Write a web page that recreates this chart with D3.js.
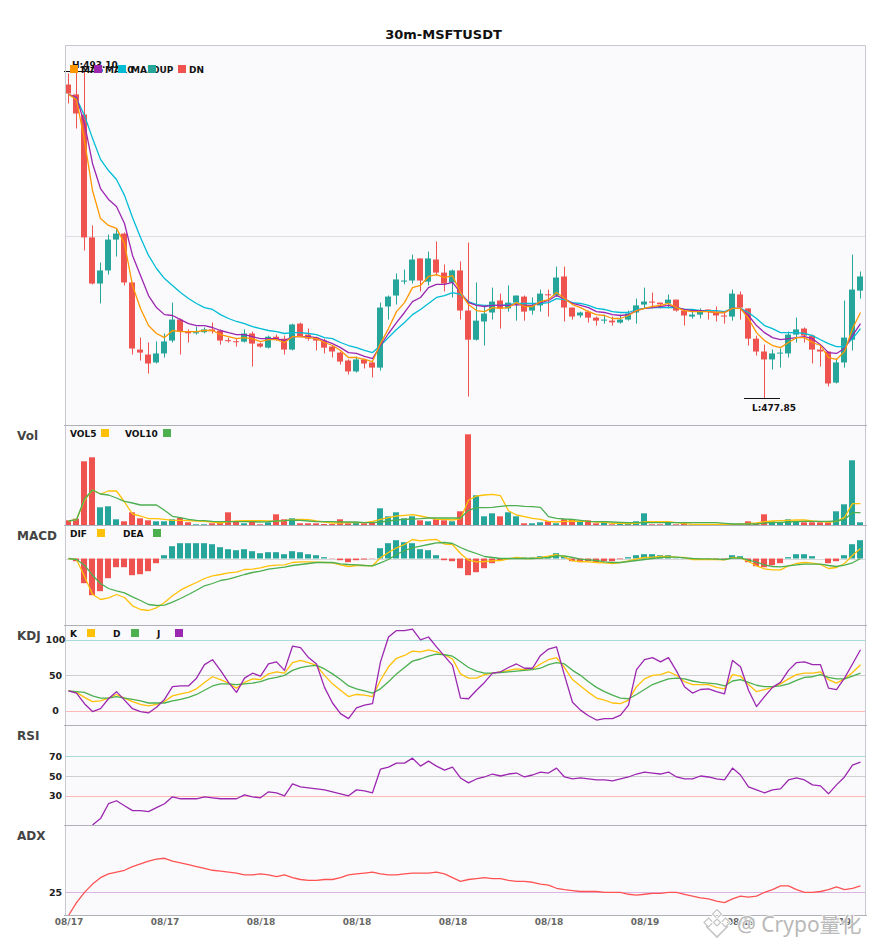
<!DOCTYPE html>
<html>
<head>
<meta charset="utf-8">
<title>30m-MSFTUSDT</title>
<script src="https://cdn.jsdelivr.net/npm/d3@7/dist/d3.min.js"></script>
<style>
  html, body { margin: 0; padding: 0; background: #fff; }
  svg { display: block; font-family: "DejaVu Sans", sans-serif; }
  .legend { font-size: 9px; font-weight: bold; fill: #111; }
  .pane-label { font-size: 12px; font-weight: bold; fill: #444; }
  .axis text { font-size: 9.5px; font-weight: bold; fill: #222; font-family: "DejaVu Sans", sans-serif; }
  .axis path, .axis line { display: none; }
  .axis.time text { font-size: 9px; fill: #666; }
</style>
</head>
<body>
<svg id="chart" width="885" height="950"></svg>
<script>
const WIDTH = 885;
const HEIGHT = 950;

const TITLE = "30m-MSFTUSDT";
const dateLabels = ["08/17", "08/17", "08/18", "08/18", "08/18", "08/18", "08/19", "08/19", "08/19"];

const open = [
  492.49,492.03,491.09,485.36,483.21,483.82,485.26,485.54,483.26,480.13,
  479.90,479.53,479.95,480.55,481.53,480.97,480.89,480.94,481.07,481.02,
  480.57,480.52,480.50,480.88,480.41,480.22,480.73,480.64,480.13,481.34,
  480.83,480.69,480.55,480.27,479.99,479.62,479.11,479.67,479.53,479.29,
  482.14,482.65,483.30,483.35,484.38,483.30,484.33,483.72,483.26,483.82,
  481.95,480.59,481.44,481.86,482.42,482.05,482.32,482.60,481.95,482.19,
  482.71,482.65,483.54,482.09,481.72,481.90,481.62,481.48,481.48,481.39,
  481.53,481.86,482.23,482.37,482.32,482.28,482.46,481.95,481.67,481.76,
  482.00,481.86,481.72,481.67,482.70,482.05,480.64,480.04,479.67,479.95,
  479.95,480.83,481.11,480.78,480.13,480.04,478.59,479.53,480.59,482.88
];
const close = [
  492.07,491.14,485.36,483.21,483.82,485.26,485.54,483.26,480.18,479.99,
  479.48,479.95,480.51,481.53,480.97,480.89,480.94,481.07,480.99,480.55,
  480.52,480.48,480.88,480.41,480.27,480.73,480.59,480.13,481.30,480.73,
  480.64,480.55,480.22,480.04,479.57,479.11,479.67,479.48,479.29,482.09,
  482.60,483.40,483.35,484.33,483.35,484.38,483.72,483.21,483.82,481.95,
  480.59,481.48,481.81,482.37,482.05,482.32,482.65,481.90,482.19,482.74,
  482.66,483.49,482.09,481.67,481.86,481.62,481.48,481.53,481.40,481.53,
  481.81,482.19,482.37,482.32,482.24,482.46,481.95,481.72,481.76,481.90,
  481.95,481.72,481.67,482.74,482.09,480.64,480.04,479.67,479.95,479.99,
  480.83,481.07,480.78,480.13,480.04,478.55,479.53,480.69,482.93,483.54
];
const high = [
  493.01,493.05,493.10,485.92,484.19,485.50,485.78,485.59,483.26,480.69,
  480.46,480.51,480.88,482.32,481.58,481.07,481.20,481.16,481.39,481.07,
  480.69,480.66,481.07,480.97,480.46,480.78,480.83,480.78,481.34,481.39,
  481.11,480.73,480.64,480.32,480.04,479.67,479.81,479.71,479.57,482.32,
  482.65,483.68,483.86,484.56,484.38,484.70,485.17,484.10,483.86,484.24,
  485.12,483.26,482.14,483.02,482.74,483.12,482.65,482.65,482.56,482.93,
  482.93,484.00,484.00,482.09,481.90,481.95,481.67,481.76,481.67,481.76,
  481.95,482.51,483.02,482.79,482.32,482.70,482.46,482.00,481.95,482.05,
  482.00,482.14,481.90,482.93,482.84,482.05,480.78,480.36,480.13,480.18,
  480.97,481.62,481.16,480.83,480.32,480.04,479.71,482.42,484.56,483.77
];
const low = [
  491.61,490.44,484.75,483.17,482.28,483.63,484.47,483.12,479.90,479.62,
  479.01,479.48,479.76,480.46,479.90,480.46,480.83,480.89,480.88,480.36,
  480.46,480.27,480.46,479.34,480.22,480.18,480.55,479.90,480.09,480.73,
  480.55,480.09,479.95,479.76,479.43,478.97,479.06,479.25,478.83,479.15,
  481.53,482.23,483.17,483.21,482.84,483.12,483.58,482.84,482.56,481.53,
  477.94,480.55,480.32,481.53,481.11,481.90,481.48,481.48,481.76,481.90,
  481.67,482.60,481.44,481.53,481.62,481.39,481.25,481.34,481.25,481.34,
  481.48,481.34,482.05,482.05,482.05,482.05,481.90,481.25,481.58,481.58,
  481.53,481.44,481.34,481.48,481.53,480.32,479.85,477.85,479.20,479.29,
  479.76,480.46,480.46,479.48,479.34,478.41,478.55,479.29,480.09,482.51
];

const maFast = [
  492.03,491.79,489.88,487.55,486.24,485.92,485.78,485.08,483.12,482.05,
  481.25,480.88,480.69,481.02,480.97,480.97,480.97,481.02,481.02,480.83,
  480.73,480.64,480.69,480.64,480.50,480.59,480.59,480.46,480.73,480.73,
  480.69,480.64,480.46,480.32,480.09,479.76,479.76,479.67,479.57,480.41,
  481.11,481.90,482.32,483.02,483.12,483.54,483.63,483.49,483.58,482.79,
  482.23,481.95,481.90,482.09,482.05,482.09,482.32,482.14,482.14,482.37,
  482.46,482.79,482.51,482.23,482.09,481.90,481.76,481.72,481.58,481.58,
  481.72,481.95,482.05,482.14,482.19,482.28,482.09,481.95,481.90,481.90,
  481.90,481.86,481.86,482.05,482.05,481.58,480.92,480.55,480.32,480.22,
  480.46,480.69,480.69,480.46,480.32,479.76,479.67,480.04,481.11,481.86
];
const maMid = [
  492.03,491.89,490.67,488.81,487.64,487.13,486.80,486.01,484.52,483.58,
  482.65,482.09,481.76,481.72,481.53,481.34,481.25,481.25,481.16,481.02,
  480.92,480.83,480.83,480.73,480.64,480.64,480.64,480.55,480.73,480.73,
  480.73,480.69,480.55,480.41,480.22,479.99,479.95,479.81,479.71,480.32,
  480.88,481.39,481.86,482.37,482.56,483.02,483.17,483.17,483.26,482.79,
  482.32,482.19,482.14,482.19,482.19,482.19,482.23,482.19,482.19,482.32,
  482.42,482.65,482.51,482.28,482.19,482.09,481.90,481.86,481.76,481.72,
  481.76,481.95,482.05,482.09,482.14,482.19,482.09,482.00,481.95,481.95,
  481.90,481.86,481.86,482.05,482.05,481.72,481.25,480.92,480.69,480.59,
  480.64,480.69,480.73,480.64,480.36,479.99,479.95,480.18,480.78,481.34
];
const maSlow = [
  492.03,491.84,491.05,489.98,489.00,488.48,488.06,487.32,486.29,485.36,
  484.52,483.91,483.44,483.12,482.79,482.51,482.28,482.09,482.00,481.76,
  481.58,481.44,481.34,481.20,481.11,481.02,480.97,480.88,480.92,480.92,
  480.88,480.83,480.69,480.64,480.46,480.32,480.22,480.09,479.99,480.32,
  480.69,481.07,481.39,481.76,482.00,482.28,482.56,482.65,482.79,482.70,
  482.37,482.23,482.19,482.19,482.19,482.23,482.28,482.28,482.28,482.28,
  482.32,482.51,482.46,482.32,482.28,482.19,482.05,482.00,481.90,481.86,
  481.86,482.00,482.05,482.09,482.09,482.09,482.09,482.00,482.00,481.95,
  481.95,481.95,481.90,482.05,482.05,481.86,481.58,481.25,481.11,480.92,
  480.92,480.92,480.88,480.78,480.59,480.41,480.27,480.27,480.64,481.11
];

const volume = [
  4.7,6.3,63.7,67.7,17.7,18.7,5.7,3.7,12.7,6.7,
  4.7,3.7,3.7,5.7,7,2.7,0.7,0.7,1.7,2.7,
  12.7,3.7,1.7,3.7,0.7,2.7,10.7,5.7,6.7,1.7,
  1.7,1.7,1,1,5.7,1.7,2.3,1.7,2.3,16.7,
  8.7,12.7,6.7,8.7,4.7,3.7,5.7,4.7,3.7,13.7,
  90.7,29.7,8.7,11.7,8.7,12.7,8.7,1.7,1.7,2.7,
  3.7,1.7,5.7,5.7,3.7,4.7,1.7,3,0.7,2.3,
  1.3,3.7,11.7,0.7,0.7,2.3,0.7,1.7,0.7,0.7,
  0.7,0.7,1.3,1.3,1.3,3.7,1.7,10.7,3.7,2.3,
  5.7,3.7,2.7,2.7,2.7,2.7,13.7,20.7,64.7,2.7
];
const vol5 = [
  4,5.3,24.7,35,31,34,34,23,11,9,
  6.3,6.3,5.7,4.7,4.7,4.3,4,3.7,3,2,
  3.3,4,4.3,4.3,4.3,4,3.7,4.3,5.3,5.7,
  5.3,4,3,2,2,2.3,2.3,2.3,3.7,5.7,
  7.3,9,9.7,10.3,9,7.3,5.7,5.7,5,6.3,
  24.7,29,30,30.7,29.3,14.3,10,8.3,6.7,5.7,
  3.7,3,3.7,4,3.7,3.7,3,2.7,1.7,1.7,
  1.3,1.7,3.3,3.3,3.3,3.3,2.3,1.3,0.7,0.7,
  0.7,0.7,0.7,0.7,0.7,1.7,2,3.3,4,4.3,
  4.7,5,5,4,3.3,3,3.7,7.7,21.3,21.3
];
const vol10 = [
  4,5.3,26,35,31,30,27,23.7,22,20,
  20,20,14.7,8.7,7.3,5.7,4.7,4.3,3.7,3.3,
  3.3,3.3,3.3,3.3,3,3.3,4,4.3,5,4.7,
  4,3.3,3.3,3.3,3,3,3,2.3,2.3,3,
  4,5,5.7,6,6.3,7,7,7,7,7,
  14.7,17.3,17.3,17.7,18.7,19.3,19.3,18.7,18.3,17.7,
  8.3,6.7,6,5.7,4.7,3.7,3.3,3.3,3,2.7,
  2.3,2.3,2.7,2.3,2.3,2.3,2.3,2.3,2.3,2.3,
  2.3,2.3,1.7,1,1,1,1,2,2.3,2.7,
  3,3.3,3.7,3.7,3.7,3.7,4,5.7,12.3,12.3
];

const macdHist = [
  0,-2.7,-24.7,-36.7,-32.7,-19.7,-8.7,-8.7,-16.7,-15.7,
  -12.7,-4.7,3.3,12.3,15.3,15.3,15.3,15.3,14.3,11.3,
  9.3,8.3,9.3,7.3,5.3,6.3,6.3,4.3,7.3,6.3,
  4.3,3.3,1.3,-0.3,-1.7,-3.7,-1.7,-1,-0.3,10.3,
  15.3,18.3,16.3,15.3,9.3,8.3,3.3,-1.7,-2.7,-9.7,
  -16.7,-13.7,-9.7,-4.7,-1.7,0.3,0.3,1,1,2.3,
  2.3,5.3,2.3,-2.7,-3.7,-2.7,-3.7,-2.7,-2.7,-0.7,
  1.3,3.3,4.3,4.3,3.3,3.3,0.3,0.3,-0.3,-0.3,
  -0.3,-1,-1,3.3,2.3,-3.7,-7.7,-8.7,-6.7,-4.7,
  1.3,4.3,4.3,2.3,0,-4.7,-2.7,3.3,14.3,18.3
];
const dif = [
  0,-1,-18,-35.7,-41,-39.3,-36,-39,-47.3,-51,
  -52,-49.3,-44,-37.3,-31.7,-27.7,-24,-20,-17.3,-16,
  -14.3,-13.7,-11,-10.7,-9.3,-7.3,-6.7,-6.3,-4,-3.3,
  -3.3,-3.7,-4,-4.3,-6.3,-8,-7,-7,-7.3,0.7,
  6,10.7,14,19,17.7,18.7,19,14.3,14,5,
  -1.7,-3.3,-3,-2.3,-2,-0.3,1,0,0,1,
  2.3,4,1.7,-2.3,-3,-3.3,-4,-4.3,-5,-4,
  -2.3,-0.3,1,1.3,2,2,1.3,1,-1,-1,
  -1,-1,-1.3,1,0.7,-3,-7.3,-10.3,-11.3,-11.3,
  -7.3,-5,-4,-4.7,-6,-10,-9,-5,3.3,10
];
const dea = [
  0,-1,-6.7,-16.7,-25,-30,-32.3,-34.3,-38.3,-42,
  -46,-47,-46.7,-43.7,-40,-36,-31.7,-27.3,-25,-22,
  -20.7,-18.3,-16,-14,-12.7,-10.7,-9.7,-8.7,-7,-6,
  -5,-4,-4,-4,-5.3,-6,-6.3,-7,-7.3,-4.3,
  -1,4,8,10.7,12.3,14,15.7,16,15,11,
  7.7,5,2,1,0,0,0,0,0,0.3,
  1,2.7,2.7,1,-0.7,-1.3,-2,-3.3,-4,-4,
  -3,-2,-1,0,1,1.3,1.3,0.7,0,-0.3,
  -0.3,-0.7,-1,0.3,0.7,-1.7,-3.7,-6.3,-8,-8.3,
  -7.3,-6.3,-5.7,-5.7,-5.7,-7,-8,-6.7,-4.3,0
];

const kdjK = [
  28,26,19,13,14,18,23,18,13,9,
  7,9,13,21,24,26,31,40,48,44,
  39,32,40,45,44,52,55,53,68,71,
  68,64,50,38,29,20,23,22,20,43,
  62,74,78,84,83,86,83,79,73,52,
  46,46,51,53,55,57,59,58,59,66,
  72,75,61,44,35,26,18,15,11,10,
  15,34,45,50,51,55,50,41,37,37,
  37,33,31,51,49,37,27,30,33,38,
  45,51,53,53,55,44,39,45,54,65
];
const kdjD = [
  28,27,26,21,18,18,20,18,16,14,
  11,11,11,14,16,19,23,29,35,38,
  38,37,38,39,41,45,47,50,57,61,
  63,64,59,52,44,35,31,28,25,31,
  41,52,61,70,73,77,80,79,77,69,
  61,56,53,53,54,55,56,57,58,60,
  65,68,66,57,50,41,33,27,22,18,
  17,23,30,37,41,45,46,45,42,40,
  39,38,35,42,44,40,36,34,34,35,
  38,43,47,48,51,47,45,45,49,53
];
const kdjJ = [
  28,25,10,-1,3,17,27,15,3,-1,
  -3,5,16,34,35,35,46,65,72,57,
  40,26,46,53,49,66,69,57,91,89,
  75,66,33,11,-4,-11,4,8,10,69,
  104,113,113,115,100,104,90,77,64,18,
  17,29,40,53,55,61,66,60,60,78,
  87,90,50,12,1,-7,-13,-11,-11,-6,
  8,58,72,75,69,75,56,34,25,30,
  31,27,24,71,62,29,6,20,33,40,
  57,68,69,65,65,32,30,46,66,86
];

const rsi = [
  null,null,null,0.4,7,22,25,20,15,15,
  14,18,22,29,27,27,27,29,28,27,
  27,27,31,29,28,34,33,30,42,39,
  38,37,36,34,32,30,36,35,33,57,
  59,63,63,68,60,65,60,56,59,48,
  43,47,49,52,50,52,53,49,51,54,
  53,58,49,47,48,47,46,46,45,47,
  49,52,54,53,52,54,49,47,47,50,
  49,47,46,58,51,39,36,33,36,37,
  46,48,46,41,40,32,41,49,61,64
];

const adx = [
  0,14,25,34,41,45,47,49,53,56,
  59,61,62,59,57,55,53,51,49,48,
  47,46,44,44,45,44,42,44,41,39,
  38,38,39,39,41,44,45,46,47,45,
  44,44,45,46,46,46,47,45,41,37,
  39,40,41,40,40,38,37,37,36,34,
  33,29.5,28,27,26,26,26,25,25,25,
  23,22,23,24,24,25,25,23,21,19,
  18,15.5,14,18,21,20,21,25,28,32,
  32,28,25,25,26,28,31,28,29.5,32
];

const GREEN = "#26a69a";
const RED = "#ef5350";
const ORANGE = "#ff9800";
const PURPLE = "#9c27b0";
const CYAN = "#00bcd4";
const AMBER = "#ffc107";
const LINE_GREEN = "#4caf50";

const LEFT = 65.5;
const RIGHT = 865.5;
const PANES = {
  main: { top: 45.5, bottom: 425.5 },
  vol: { top: 425.5, bottom: 525.5 },
  macd: { top: 525.5, bottom: 625.5 },
  kdj: { top: 625.5, bottom: 725.5 },
  rsi: { top: 725.5, bottom: 825.5 },
  adx: { top: 825.5, bottom: 915.5 },
};
const index = d3.range(close.length);

const svg = d3.select("#chart").attr("viewBox", `0 0 ${WIDTH} ${HEIGHT}`);
const defs = svg.append("defs");

const x = d3.scaleLinear().domain([0, index.length - 1]).range([68.5, 860.5]);
const yMain = d3.scaleLinear().domain([476.59, 494.31]).range([PANES.main.bottom, PANES.main.top]);
const yVol = d3.scaleLinear().domain([0, 100]).range([PANES.vol.bottom - 0.5, PANES.vol.top - 0.5]);
const yMacd = d3.scaleLinear().domain([-67, 33]).range([PANES.macd.bottom, PANES.macd.top]);
const yKdj = d3.scaleLinear().domain([-20.7, 120.2]).range([PANES.kdj.bottom, PANES.kdj.top]);
const yRsi = d3.scaleLinear().domain([0, 101]).range([PANES.rsi.bottom, PANES.rsi.top]);
const yAdx = d3.scaleLinear().domain([0, 97.5]).range([PANES.adx.bottom, PANES.adx.top]);

svg.append("text")
  .attr("x", 443.5)
  .attr("y", 39)
  .attr("text-anchor", "middle")
  .attr("font-size", 13)
  .attr("font-weight", "bold")
  .attr("fill", "#111")
  .text(TITLE);

svg.append("rect")
  .attr("x", LEFT)
  .attr("y", PANES.main.top)
  .attr("width", RIGHT - LEFT)
  .attr("height", PANES.adx.bottom - PANES.main.top)
  .attr("fill", "#fafafd");

// clip per pane, indicator lines run off the bottom of theirs
Object.entries(PANES).forEach(([name, pane]) => {
  defs.append("clipPath")
    .attr("id", `clip-${name}`)
    .append("rect")
    .attr("x", LEFT - 0.5)
    .attr("y", pane.top)
    .attr("width", RIGHT - LEFT + 1)
    .attr("height", pane.bottom - pane.top);
});
const paneGroup = (name) => svg.append("g").attr("clip-path", `url(#clip-${name})`);

const refLine = (y, color) =>
  svg.append("line")
    .attr("x1", LEFT)
    .attr("x2", RIGHT)
    .attr("y1", Math.round(y) + 0.5)
    .attr("y2", Math.round(y) + 0.5)
    .attr("stroke", color)
    .attr("stroke-width", 1);

refLine(yMain(485.45), "#dddde3");
refLine(yMacd(0), "#d8d8d8");
refLine(yKdj(100), "#a8dcd8");
refLine(yKdj(50), "#cfcfcf");
refLine(yKdj(0), "#ffb8b8");
refLine(yRsi(70), "#a8dcd8");
refLine(yRsi(50), "#cfcfcf");
refLine(yRsi(30), "#ffb8b8");
refLine(yAdx(25), "#dcb4e4");

const drawLine = (group, values, y, color, width = 1.3) =>
  group.append("path")
    .datum(values)
    .attr("fill", "none")
    .attr("stroke", color)
    .attr("stroke-width", width)
    .attr("stroke-linejoin", "round")
    .attr("d", d3.line()
      .defined((d) => d !== null)
      .x((d, i) => x(i))
      .y((d) => y(d)));

const isUp = (i) => close[i] >= open[i];

// candles
const mainG = paneGroup("main");
mainG.append("g")
  .selectAll("line")
  .data(index)
  .join("line")
  .attr("x1", (i) => x(i))
  .attr("x2", (i) => x(i))
  .attr("y1", (i) => yMain(high[i]))
  .attr("y2", (i) => yMain(low[i]))
  .attr("stroke", (i) => (isUp(i) ? GREEN : RED))
  .attr("stroke-width", 1);
mainG.append("g")
  .selectAll("rect")
  .data(index)
  .join("rect")
  .attr("x", (i) => x(i) - 3.5)
  .attr("width", 6)
  .attr("y", (i) => yMain(Math.max(open[i], close[i])))
  .attr("height", (i) => Math.max(1, Math.abs(yMain(open[i]) - yMain(close[i]))))
  .attr("fill", (i) => (isUp(i) ? GREEN : RED));
drawLine(mainG, maSlow, yMain, CYAN);
drawLine(mainG, maMid, yMain, PURPLE);
drawLine(mainG, maFast, yMain, ORANGE);

// high / low markers
const hiIndex = d3.maxIndex(high);
const loIndex = d3.minIndex(low);
const marker = (i, value, textOffset) => {
  svg.append("line")
    .attr("x1", x(i) - 20.5)
    .attr("x2", x(i) + 15.5)
    .attr("y1", Math.round(yMain(value)) + 0.5)
    .attr("y2", Math.round(yMain(value)) + 0.5)
    .attr("stroke", "#111")
    .attr("stroke-width", 1);
  svg.append("text")
    .attr("class", "legend")
    .attr("x", x(i) - 12.5)
    .attr("y", yMain(value) + textOffset)
    .text(`${i === hiIndex ? "H" : "L"}:${value.toFixed(2)}`);
};
marker(hiIndex, high[hiIndex], -3);
marker(loIndex, low[loIndex], 12.5);

// legends, squares go over the text like the original
const legend = (labels, colors, labelX, squareX, baseline) => {
  labels.forEach((label, i) => {
    svg.append("text")
      .attr("class", "legend")
      .attr("x", labelX[i])
      .attr("y", baseline)
      .text(label);
  });
  colors.forEach((color, i) => {
    svg.append("rect")
      .attr("x", squareX[i])
      .attr("y", baseline - 8)
      .attr("width", 8)
      .attr("height", 8)
      .attr("fill", color);
  });
};
legend(["MA5", "MA10", "MA30", "UP", "DN"], [ORANGE, PURPLE, CYAN, GREEN, RED],
  [81, 105, 131, 159.5, 189], [70, 94, 118, 148, 178], 73);
legend(["VOL5", "VOL10"], [AMBER, LINE_GREEN], [70, 125], [101, 163], 437);
legend(["DIF", "DEA"], [AMBER, LINE_GREEN], [70, 123], [97, 153], 537);
legend(["K", "D", "J"], [AMBER, LINE_GREEN, PURPLE], [70, 113, 157], [87, 131, 175], 637);

// volume
const volG = paneGroup("vol");
volG.append("g")
  .selectAll("rect")
  .data(index)
  .join("rect")
  .attr("x", (i) => x(i) - 3.5)
  .attr("width", 6)
  .attr("y", (i) => yVol(volume[i]))
  .attr("height", (i) => yVol(0) - yVol(volume[i]))
  .attr("fill", (i) => (isUp(i) ? GREEN : RED));
drawLine(volG, vol5, yVol, AMBER);
drawLine(volG, vol10, yVol, LINE_GREEN);

// macd
const macdG = paneGroup("macd");
macdG.append("g")
  .selectAll("rect")
  .data(index)
  .join("rect")
  .attr("x", (i) => x(i) - 3.5)
  .attr("width", 6)
  .attr("y", (i) => Math.min(yMacd(macdHist[i]), yMacd(0)))
  .attr("height", (i) => Math.abs(yMacd(macdHist[i]) - yMacd(0)))
  .attr("fill", (i) => (macdHist[i] >= 0 ? GREEN : RED));
drawLine(macdG, dif, yMacd, AMBER);
drawLine(macdG, dea, yMacd, LINE_GREEN);

// kdj, rsi, adx
const kdjG = paneGroup("kdj");
drawLine(kdjG, kdjK, yKdj, AMBER);
drawLine(kdjG, kdjD, yKdj, LINE_GREEN);
drawLine(kdjG, kdjJ, yKdj, PURPLE);
drawLine(paneGroup("rsi"), rsi, yRsi, PURPLE);
drawLine(paneGroup("adx"), adx, yAdx, "#ff5252");

// frame and pane separators
svg.append("line")
  .attr("x1", LEFT).attr("x2", LEFT)
  .attr("y1", PANES.main.top).attr("y2", PANES.adx.bottom)
  .attr("stroke", "#c8c8d0");
svg.append("line")
  .attr("x1", RIGHT).attr("x2", RIGHT)
  .attr("y1", PANES.main.top).attr("y2", PANES.adx.bottom)
  .attr("stroke", "#c8c8d0");
svg.append("line")
  .attr("x1", LEFT).attr("x2", RIGHT)
  .attr("y1", PANES.main.top).attr("y2", PANES.main.top)
  .attr("stroke", "#c8c8d0");
Object.values(PANES).forEach((pane) => {
  svg.append("line")
    .attr("x1", LEFT - 1.5)
    .attr("x2", RIGHT + 1.5)
    .attr("y1", pane.bottom)
    .attr("y2", pane.bottom)
    .attr("stroke", "#b0b0b8");
});

// pane titles
const paneLabels = [["Vol", 439.5], ["MACD", 539.5], ["KDJ", 640], ["RSI", 739.5], ["ADX", 839.5]];
svg.selectAll(".pane-label")
  .data(paneLabels)
  .join("text")
  .attr("class", "pane-label")
  .attr("x", 17)
  .attr("y", (d) => d[1])
  .text((d) => d[0]);

// value ticks
const valueAxis = (scale, ticks) =>
  svg.append("g")
    .attr("class", "axis")
    .attr("transform", "translate(55.5,0)")
    .call(d3.axisLeft(scale).tickValues(ticks).tickSize(0).tickPadding(0))
    .call((g) => g.selectAll("text").attr("text-anchor", "middle").attr("x", 0));
valueAxis(yKdj, [0, 50, 100]);
valueAxis(yRsi, [30, 50, 70]);
valueAxis(yAdx, [25]);

// time axis, one label every 12 bars
const tickBars = dateLabels.map((_, i) => i * 12);
svg.append("g")
  .attr("class", "axis time")
  .attr("transform", `translate(0,${PANES.adx.bottom})`)
  .call(d3.axisBottom(x)
    .tickValues(tickBars)
    .tickSize(0)
    .tickPadding(3)
    .tickFormat((d) => dateLabels[d / 12]));

// watermark
const wm = svg.append("g").attr("fill", "none").attr("stroke", "#c4c4c4").attr("stroke-width", 1.2);
[[717, 914, 4.5], [708.5, 922.5, 4.5], [725.5, 922.5, 4.5], [717, 922.5, 3.5]].forEach(([cx, cy, r]) => {
  wm.append("path")
    .attr("d", `M${cx},${cy - r}L${cx + r},${cy}L${cx},${cy + r}L${cx - r},${cy}Z`)
    .attr("stroke", "#fff")
    .attr("stroke-width", 3);
  wm.append("path").attr("d", `M${cx},${cy - r}L${cx + r},${cy}L${cx},${cy + r}L${cx - r},${cy}Z`);
});
wm.append("path")
  .attr("d", "M706,926L717,937L728,926")
  .attr("stroke-width", 1.6);
svg.append("text")
  .attr("x", 737)
  .attr("y", 932)
  .attr("font-family", "'Noto Sans', 'Noto Sans CJK SC', sans-serif")
  .attr("font-size", 21)
  .attr("fill", "#b9b9b9")
  .attr("stroke", "#fff")
  .attr("stroke-width", 2)
  .attr("stroke-opacity", 0.8)
  .attr("paint-order", "stroke")
  .text("@ Crypo量化");
</script>
</body>
</html>
